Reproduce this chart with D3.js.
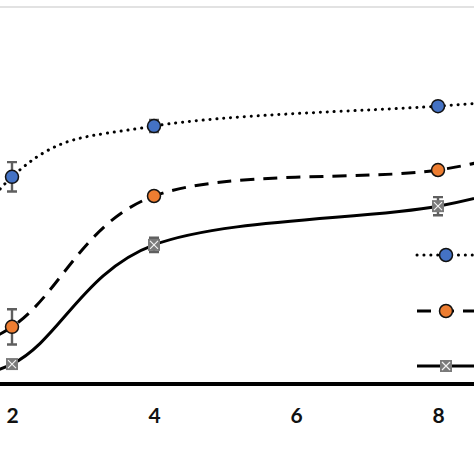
<!DOCTYPE html>
<html>
<head>
<meta charset="utf-8">
<script src="https://cdn.jsdelivr.net/npm/d3@7"></script>
<style>
  body { margin: 0; background: #fff; }
  svg { display: block; }
</style>
</head>
<body>
<svg id="chart" width="474" height="474"></svg>
<script>
// time points (only 2..8 are inside the visible crop)
var xVals = [0, 2, 4, 8, 10]
var xTicks = [2, 4, 6, 8]

var blueVals   = [0, 55.1, 68.6, 73.9, 76.6]
var orangeVals = [0, 15.2, 50.0, 56.9, 67]
var blackVals  = [0, 5.3, 37.0, 47.3, 58]

var blueErr   = [0, 3.9, 1.6, 0.6, 0.6]
var orangeErr = [0, 4.7, 0.6, 0.6, 0.6]
var blackErr  = [0, 1.0, 1.9, 2.4, 1.5]

var svg = d3.select("#chart")

var x = d3.scaleLinear().domain([2, 8]).range([12, 438])
var y = d3.scaleLinear().domain([0, 100]).range([384, 8])

// faint frame line on top
svg.append("line")
  .attr("x1", 0).attr("x2", 474)
  .attr("y1", 7).attr("y2", 7)
  .attr("stroke", "#e2e2e2").attr("stroke-width", 2)

var series = [
  {vals: blueVals,   err: blueErr,   fill: "#4472c4", dash: "0.1 6.8", marker: "circle", ly: 255},
  {vals: orangeVals, err: orangeErr, fill: "#ed7d31", dash: "14 9",    marker: "circle", ly: 311},
  {vals: blackVals,  err: blackErr,  fill: "#7a7a7a", dash: null,      marker: "xsq",    ly: 366}
]

var line = d3.line()
  .x(function(d){ return x(d[0]) })
  .y(function(d){ return y(d[1]) })
  .curve(d3.curveCardinal.tension(0))

function drawMarker(g, cx, cy, s) {
  if (s.marker == "circle") {
    g.append("circle")
      .attr("cx", cx).attr("cy", cy).attr("r", 6.5)
      .attr("fill", s.fill).attr("stroke", "#111").attr("stroke-width", 1.5)
  } else {
    g.append("rect")
      .attr("x", cx - 6).attr("y", cy - 6).attr("width", 12).attr("height", 12)
      .attr("fill", s.fill)
    g.append("path")
      .attr("d", "M" + (cx-4) + "," + (cy-4) + "L" + (cx+4) + "," + (cy+4) +
                 "M" + (cx+4) + "," + (cy-4) + "L" + (cx-4) + "," + (cy+4))
      .attr("stroke", "#f2f2f2").attr("stroke-width", 1.2)
  }
}

series.forEach(function(s) {
  var pts = xVals.map(function(v, i){ return [v, s.vals[i]] })
  var cap = s.dash && s.dash.indexOf("0.1") == 0 ? "round" : "butt"

  svg.append("path")
    .attr("d", line(pts))
    .attr("fill", "none")
    .attr("stroke", "#000")
    .attr("stroke-width", 3)
    .attr("stroke-linecap", cap)
    .attr("stroke-dasharray", s.dash)

  var g = svg.append("g")
  // error bars
  pts.forEach(function(p, i) {
    if (p[0] < 2) return
    var cx = x(p[0]), y1 = y(p[1] + s.err[i]), y2 = y(p[1] - s.err[i])
    g.append("path")
      .attr("d", "M" + cx + "," + y1 + "V" + y2 +
                 "M" + (cx-5) + "," + y1 + "H" + (cx+5) +
                 "M" + (cx-5) + "," + y2 + "H" + (cx+5))
      .attr("stroke", "#5f5f5f").attr("stroke-width", 2.4).attr("fill", "none")
  })
  pts.forEach(function(p) {
    if (p[0] < 2) return
    drawMarker(g, x(p[0]), y(p[1]), s)
  })

  // legend entry (text is outside the crop)
  svg.append("line")
    .attr("x1", 417).attr("x2", 480)
    .attr("y1", s.ly).attr("y2", s.ly)
    .attr("stroke", "#000").attr("stroke-width", 3)
    .attr("stroke-linecap", cap)
    .attr("stroke-dasharray", s.dash)
  drawMarker(svg.append("g"), 446, s.ly, s)
})

// x axis
var xAxis = d3.axisBottom(x).tickValues(xTicks).tickFormat(d3.format("d"))
  .tickSize(0).tickPadding(24)
var ax = svg.append("g")
  .attr("transform", "translate(0," + 384 + ")")
  .call(xAxis)
ax.select(".domain").remove()
ax.append("line")
  .attr("x1", 0).attr("x2", 474)
  .attr("stroke", "#000").attr("stroke-width", 3.8)
ax.selectAll("text")
  .attr("font-family", "Lato, 'Open Sans', sans-serif")
  .attr("font-weight", "bold")
  .attr("font-size", 21)
  .attr("fill", "#111")
</script>
</body>
</html>
